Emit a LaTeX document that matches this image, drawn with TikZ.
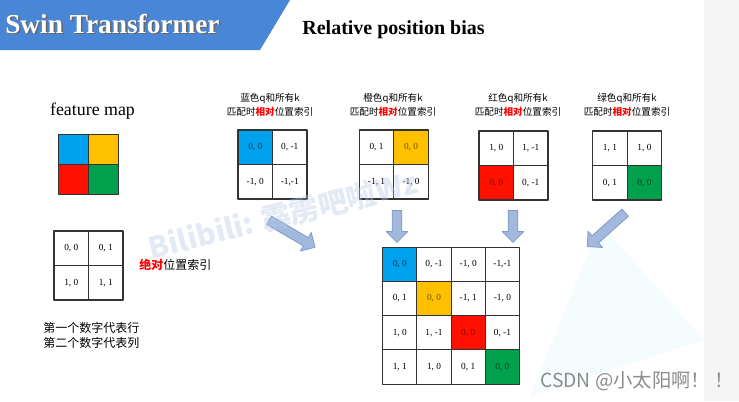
\documentclass[tikz,border=0pt]{standalone}
\usepackage{fontspec}
\setmainfont{Liberation Serif}
\newfontfamily\cjk{Noto Sans CJK SC}
\usetikzlibrary{calc,shapes.arrows}
\definecolor{qblue}{HTML}{00A2EE}
\definecolor{qorange}{HTML}{FFC000}
\definecolor{qred}{HTML}{FF1100}
\definecolor{qgreen}{HTML}{00A04C}
\definecolor{banner}{HTML}{4A86D6}
\definecolor{arrowfill}{HTML}{A3B8DD}
\definecolor{arrowline}{HTML}{7F9BCB}
\definecolor{wmark}{HTML}{B9CCE4}
\newcommand{\rel}[1]{{\color{red}\bfseries #1}}
\tikzset{
  cell/.style={draw=black!80, line width=0.8pt, inner sep=0pt, minimum size=#1,
    font=\fontsize{7}{8}\selectfont},
  cell/.default=25.9pt,
  wc/.style={fill=white},
  qb/.style={fill=qblue, text=qblue!35!black},
  qo/.style={fill=qorange, text=qorange!45!black},
  qr/.style={fill=qred, text=qred!55!black},
  qg/.style={fill=qgreen, text=qgreen!45!black},
  toplabel/.style={font=\cjk\fontsize{7.2}{10.5}\selectfont, align=center, inner sep=0pt},
  barrow/.style={single arrow, draw=arrowline, fill=arrowfill, line width=0.6pt,
    inner sep=3.3pt, single arrow head extend=4.5pt, single arrow head indent=0pt}
}
\begin{document}
\begin{tikzpicture}[x=0.75pt, y=-0.75pt, line join=round]
  \useasboundingbox (0,0) rectangle (739,401);
  \fill[white] (0,0) rectangle (739,401);
  \fill[black!4] (704,0) rectangle (739,401);
  \fill[cyan!4] (600,224) -- (704,340) -- (530,396) -- cycle;
  % title bar
  \fill[banner] (0,0) -- (290,0) -- (260,50) -- (0,50) -- cycle;
  \node[anchor=base west, inner sep=0pt, text=black!60, font=\fontsize{20.5}{24}\selectfont\bfseries] (titleshadow) at (6.5,34.5) {Swin Transformer};
  \node[anchor=base west, inner sep=0pt, text=white, font=\fontsize{20.5}{24}\selectfont\bfseries] (title) at (5,33) {Swin Transformer};
  \node[anchor=base, inner sep=0pt, font=\fontsize{15}{18}\selectfont\bfseries] (subtitle) at (393.5,34) {Relative position bias};
  % feature map
  \node[font=\fontsize{13.4}{16}\selectfont] (fmlabel) at (92.5,111) {feature map};
  \def\fs{30}
  \foreach \r/\c/\s in {0/0/qb,0/1/qo,1/0/qr,1/1/qg}
    \node[cell=22.5pt, \s] (fm-\r\c) at ({58.7+(\c+0.5)*\fs},{134.3+(\r+0.5)*\fs}) {};
  % absolute index
  \def\cs{34.5}
  \foreach \r/\c/\t in {0/0/{0, 0},0/1/{0, 1},1/0/{1, 0},1/1/{1, 1}}
    \node[cell] (abs-\r\c) at ({54+(\c+0.5)*\cs},{231+(\r+0.5)*\cs}) {\t};
  \node[anchor=west, inner sep=0pt, font=\cjk\fontsize{9}{11}\selectfont] (abslabel) at (139,265) {\rel{绝对}位置索引};
  \node[anchor=west, align=left, inner sep=0pt, font=\cjk\fontsize{9}{11.25}\selectfont] (note) at (43,335.5) {第一个数字代表行\\第二个数字代表列};
  % relative index, one grid per query
  \node[toplabel] (lb1) at (270,105) {蓝色q和所有k\\匹配时\rel{相对}位置索引};
  \node[toplabel] (lb2) at (393,105) {橙色q和所有k\\匹配时\rel{相对}位置索引};
  \node[toplabel] (lb3) at (518,105) {红色q和所有k\\匹配时\rel{相对}位置索引};
  \node[toplabel] (lb4) at (627,105) {绿色q和所有k\\匹配时\rel{相对}位置索引};
  \foreach \r/\c/\t/\s in {0/0/{0, 0}/qb,0/1/{0, -1}/wc,1/0/{-1, 0}/wc,1/1/{-1,-1}/wc}
    \node[cell, \s] (g1-\r\c) at ({238+(\c+0.5)*\cs},{130+(\r+0.5)*\cs}) {\t};
  \foreach \r/\c/\t/\s in {0/0/{0, 1}/wc,0/1/{0, 0}/qo,1/0/{-1, 1}/wc,1/1/{-1, 0}/wc}
    \node[cell, \s] (g2-\r\c) at ({359.3+(\c+0.5)*\cs},{130+(\r+0.5)*\cs}) {\t};
  \foreach \r/\c/\t/\s in {0/0/{1, 0}/wc,0/1/{1, -1}/wc,1/0/{0, 0}/qr,1/1/{0, -1}/wc}
    \node[cell, \s] (g3-\r\c) at ({479+(\c+0.5)*\cs},{131+(\r+0.5)*\cs}) {\t};
  \foreach \r/\c/\t/\s in {0/0/{1, 1}/wc,0/1/{1, 0}/wc,1/0/{0, 1}/wc,1/1/{0, 0}/qg}
    \node[cell, \s] (g4-\r\c) at ({592.7+(\c+0.5)*\cs},{131+(\r+0.5)*\cs}) {\t};
  % merged table
  \def\bs{34.2}
  \foreach \r/\c/\t/\s in {0/0/{0, 0}/qb,0/1/{0, -1}/wc,0/2/{-1, 0}/wc,0/3/{-1,-1}/wc,
      1/0/{0, 1}/wc,1/1/{0, 0}/qo,1/2/{-1, 1}/wc,1/3/{-1, 0}/wc,
      2/0/{1, 0}/wc,2/1/{1, -1}/wc,2/2/{0, 0}/qr,2/3/{0, -1}/wc,
      3/0/{1, 1}/wc,3/1/{1, 0}/wc,3/2/{0, 1}/wc,3/3/{0, 0}/qg}
    \node[cell=25.65pt, \s] (big-\r\c) at ({382.7+(\c+0.5)*\bs},{247.3+(\r+0.5)*\bs}) {\t};
  % arrows
  \coordinate (s1) at (267,219); \coordinate (t1) at (313,246);
  \coordinate (s2) at (397,208); \coordinate (t2) at (397,240);
  \coordinate (s3) at (513,208); \coordinate (t3) at (513,240);
  \coordinate (s4) at (627,211); \coordinate (t4) at (589,245);
  \foreach \i in {1,...,4}
    \path let \p1=($(t\i)-(s\i)$) in
      node[barrow, minimum height={veclen(\x1,\y1)}, rotate={atan2(\y1,\x1)}] (arr\i) at ($(s\i)!0.5!(t\i)$) {};
  % watermarks
  \node[rotate=14, opacity=0.4, text=wmark, font=\cjk\bfseries\fontsize{22}{24}\selectfont] (wm) at (283,215) {Bilibili: 霹雳吧啦Wz};
  \node[anchor=west, inner sep=0pt, text=black!45, font=\cjk\fontsize{14.5}{16}\selectfont] (csdn) at (540,381) {CSDN @小太阳啊！\hspace{3pt}！};
\end{tikzpicture}
\end{document}
